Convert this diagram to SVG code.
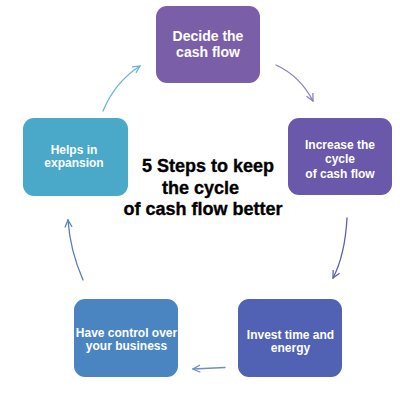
<svg xmlns="http://www.w3.org/2000/svg" width="400" height="400" viewBox="0 0 400 400">
<style>
.box{stroke:none}
.t{font-family:"Liberation Sans",Arial,sans-serif;font-weight:bold;fill:#ffffff;text-anchor:middle}
.s12{font-size:12px}
.s14{font-size:14px}
.title{font-family:"Liberation Sans",Arial,sans-serif;font-weight:bold;font-size:18px;fill:#000000;stroke:#000000;stroke-width:0.35;text-anchor:middle}
.arr{fill:none;stroke-width:1.3;stroke-linecap:round}
</style>
<defs>
<marker id="m1" viewBox="0 0 10 10" refX="9" refY="5" markerWidth="9" markerHeight="9" markerUnits="userSpaceOnUse" orient="auto"><path d="M1,1 L9,5 L1,9" fill="none" stroke="#8a7fbf" stroke-width="1.4"/></marker>
<marker id="m2" viewBox="0 0 10 10" refX="9" refY="5" markerWidth="9" markerHeight="9" markerUnits="userSpaceOnUse" orient="auto"><path d="M1,1 L9,5 L1,9" fill="none" stroke="#5f5fae" stroke-width="1.4"/></marker>
<marker id="m3" viewBox="0 0 10 10" refX="9" refY="5" markerWidth="9" markerHeight="9" markerUnits="userSpaceOnUse" orient="auto"><path d="M1,1 L9,5 L1,9" fill="none" stroke="#6f8cc8" stroke-width="1.4"/></marker>
<marker id="m4" viewBox="0 0 10 10" refX="9" refY="5" markerWidth="9" markerHeight="9" markerUnits="userSpaceOnUse" orient="auto"><path d="M1,1 L9,5 L1,9" fill="none" stroke="#557fb9" stroke-width="1.4"/></marker>
<marker id="m5" viewBox="0 0 10 10" refX="9" refY="5" markerWidth="9" markerHeight="9" markerUnits="userSpaceOnUse" orient="auto"><path d="M1,1 L9,5 L1,9" fill="none" stroke="#6fb4d2" stroke-width="1.4"/></marker>
</defs>
<rect width="400" height="400" fill="#ffffff"/>
<g id="connectors">
<path class="arr" d="M276,65 Q300,76 313,101" stroke="#8a7fbf" marker-end="url(#m1)"/>
<path class="arr" d="M347,218 Q345,255 333,278" stroke="#5f5fae" marker-end="url(#m2)"/>
<path class="arr" d="M225,367.5 L193,369" stroke="#6f8cc8" marker-end="url(#m3)"/>
<path class="arr" d="M83,280 Q70,250 68,220" stroke="#557fb9" marker-end="url(#m4)"/>
<path class="arr" d="M103,111 Q115,82 140,66" stroke="#6fb4d2" marker-end="url(#m5)"/>
</g>
<g id="node-decide">
<rect class="box" x="156" y="6" width="104" height="77" rx="11" fill="#7b5ea8"/>
<text class="t s14" x="208" y="41">Decide the</text>
<text class="t s14" x="208" y="57">cash flow</text>
</g>
<g id="node-increase">
<rect class="box" x="288" y="118" width="104" height="77" rx="11" fill="#6a58ab"/>
<text class="t s12" x="340" y="149">Increase the</text>
<text class="t s12" x="340" y="163">cycle</text>
<text class="t s12" x="340" y="178">of cash flow</text>
</g>
<g id="node-invest">
<rect class="box" x="238" y="299" width="104" height="78" rx="11" fill="#5162b4"/>
<text class="t s12" x="290.5" y="339">Invest time and</text>
<text class="t s12" x="290.5" y="352">energy</text>
</g>
<g id="node-control">
<rect class="box" x="74" y="299" width="104" height="78" rx="11" fill="#4a85c1"/>
<text class="t s12" x="126.5" y="337">Have control over</text>
<text class="t s12" x="126.5" y="350">your business</text>
</g>
<g id="node-helps">
<rect class="box" x="23" y="118" width="105" height="78" rx="11" fill="#4aa8c8"/>
<text class="t s12" x="74" y="154">Helps in</text>
<text class="t s12" x="74" y="167">expansion</text>
</g>
<g id="title">
<text class="title" x="208" y="172">5 Steps to keep</text>
<text class="title" x="200.5" y="194">the cycle</text>
<text class="title" x="203" y="215">of cash flow better</text>
</g>
</svg>
